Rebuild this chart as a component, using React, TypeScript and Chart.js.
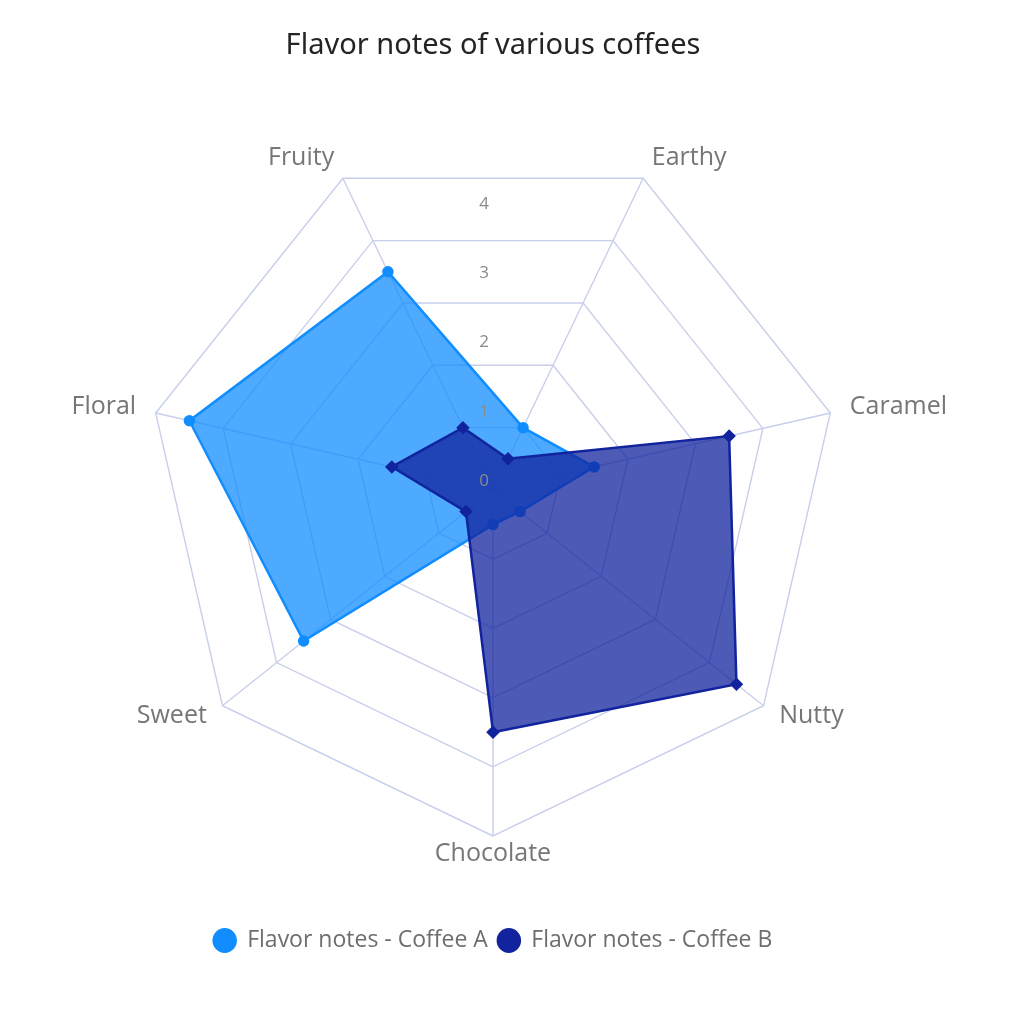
import { useEffect, useRef } from 'react'
import { Chart, registerables, Plugin } from 'chart.js'

Chart.register(...registerables)

const flavors = ['Chocolate', 'Sweet', 'Floral', 'Fruity', 'Earthy', 'Caramel', 'Nutty']
const coffeeA = [0.5, 3.5, 4.5, 3.5, 1, 1.5, 0.5]
const coffeeB = [3.5, 0.5, 1.5, 1, 0.5, 3.5, 4.5]
const tickLabels = [0, 1, 2, 3, 4]

const BLUE = '#118DFF'
const NAVY = '#12239E'
const GRID = '#C8CFEB'

// tick numbers straight up from the centre + the category names round the web
const axisText: Plugin<'radar'> = {
  id: 'axisText',
  afterDatasetsDraw(chart) {
    const scale = chart.scales.r as any
    const ctx = chart.ctx
    ctx.save()
    ctx.textBaseline = 'middle'
    ctx.textAlign = 'center'
    ctx.font = '17px "Open Sans"'
    ctx.fillStyle = '#8a8a8a'
    tickLabels.forEach((v) => {
      const d = scale.getDistanceFromCenterForValue(v)
      ctx.fillText(String(v), scale.xCenter - 9, scale.yCenter - d - 9)
    })
    ctx.font = '25px "Open Sans"'
    ctx.fillStyle = '#767676'
    flavors.forEach((name, i) => {
      const p = scale.getPointPosition(i, scale.drawingArea + 20)
      const dx = p.x - scale.xCenter
      ctx.textAlign = Math.abs(dx) < 2 ? 'center' : dx > 0 ? 'left' : 'right'
      ctx.fillText(name, p.x, p.y - 2)
    })
    ctx.restore()
  },
}

export default function App() {
  const canvas = useRef<HTMLCanvasElement>(null)

  useEffect(() => {
    if (!canvas.current) return
    const chart = new Chart(canvas.current, {
      type: 'radar',
      data: {
        labels: flavors,
        datasets: [
          {
            label: 'Flavor notes - Coffee A',
            data: coffeeA,
            order: 1,
            fill: true,
            borderColor: BLUE,
            backgroundColor: 'rgba(17,141,255,0.75)',
            borderWidth: 2.5,
            pointStyle: 'circle',
            pointRadius: 4.5,
            pointBackgroundColor: BLUE,
            pointBorderColor: BLUE,
          },
          {
            label: 'Flavor notes - Coffee B',
            data: coffeeB,
            order: 0,
            fill: true,
            borderColor: NAVY,
            backgroundColor: 'rgba(18,35,158,0.75)',
            borderWidth: 2.5,
            pointStyle: 'rectRot',
            pointRadius: 5,
            pointBackgroundColor: NAVY,
            pointBorderColor: NAVY,
          },
        ],
      },
      options: {
        responsive: false,
        animation: false,
        layout: { padding: { left: 147, right: 185, top: 0, bottom: 51 } },
        plugins: {
          title: {
            display: true,
            text: 'Flavor notes of various coffees',
            color: '#252423',
            font: { family: '"Noto Sans"', size: 29, weight: 'normal' },
            padding: { top: 28, bottom: 0 },
          },
          legend: {
            position: 'bottom',
            labels: {
              usePointStyle: true,
              pointStyle: 'circle',
              pointStyleWidth: 22,
              boxHeight: 16,
              padding: 10,
              color: '#6e6e6e',
              font: { family: '"Open Sans"', size: 23 },
              sort: (a, b) => (a.datasetIndex ?? 0) - (b.datasetIndex ?? 0),
            },
          },
          tooltip: { enabled: false },
        },
        scales: {
          r: {
            min: 0,
            max: 5,
            startAngle: 180,
            ticks: { stepSize: 1, display: false },
            pointLabels: { display: false },
            grid: { color: GRID, lineWidth: 1.4 },
            angleLines: { color: GRID, lineWidth: 1.4 },
          },
        },
      },
      plugins: [axisText],
    })
    return () => chart.destroy()
  }, [])

  return (
    <div style={{ position: 'absolute', left: 0, top: 0, width: 1024, height: 1013 }}>
      <canvas ref={canvas} width={1024} height={1013} />
    </div>
  )
}
